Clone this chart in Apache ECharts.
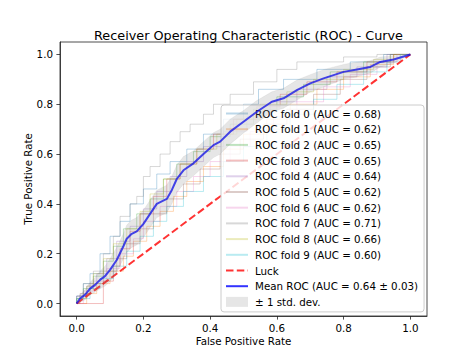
<!DOCTYPE html>
<html>
<head>
<meta charset="utf-8">
<script src="https://cdn.jsdelivr.net/npm/echarts@6/dist/echarts.min.js"></script>
<style>html,body{margin:0;padding:0;background:#fff;}#c{width:474px;height:355px;}</style>
</head>
<body>
<div id="c"></div>
<script>
// ---- data ----
const tickValues = [0, 0.2, 0.4, 0.6, 0.8, 1.0];
const foldNames = ['ROC fold 0 (AUC = 0.68)','ROC fold 1 (AUC = 0.62)','ROC fold 2 (AUC = 0.65)','ROC fold 3 (AUC = 0.65)','ROC fold 4 (AUC = 0.64)','ROC fold 5 (AUC = 0.62)','ROC fold 6 (AUC = 0.62)','ROC fold 7 (AUC = 0.71)','ROC fold 8 (AUC = 0.66)','ROC fold 9 (AUC = 0.60)'];
const fold0 = [[0,0],[0,0.03],[0.02,0.03],[0.02,0.08],[0.04,0.08],[0.04,0.12],[0.07,0.12],[0.07,0.2],[0.1,0.2],[0.1,0.27],[0.13,0.27],[0.13,0.33],[0.16,0.33],[0.16,0.4],[0.2,0.4],[0.2,0.46],[0.24,0.46],[0.24,0.52],[0.28,0.52],[0.28,0.57],[0.33,0.57],[0.33,0.62],[0.38,0.62],[0.38,0.68],[0.44,0.68],[0.44,0.74],[0.5,0.74],[0.5,0.8],[0.545,0.8],[0.545,0.86],[0.62,0.86],[0.62,0.9],[0.72,0.9],[0.72,0.94],[0.82,0.94],[0.82,0.97],[0.92,0.97],[0.92,1],[1,1]];
const fold1 = [[0,0],[0.03,0],[0.03,0.04],[0.06,0.04],[0.06,0.08],[0.1,0.08],[0.1,0.13],[0.14,0.13],[0.14,0.19],[0.17,0.19],[0.17,0.25],[0.21,0.25],[0.21,0.31],[0.25,0.31],[0.25,0.37],[0.29,0.37],[0.29,0.43],[0.33,0.43],[0.33,0.49],[0.38,0.49],[0.38,0.55],[0.44,0.55],[0.44,0.62],[0.5,0.62],[0.5,0.68],[0.57,0.68],[0.57,0.74],[0.64,0.74],[0.64,0.8],[0.72,0.8],[0.72,0.86],[0.8,0.86],[0.8,0.91],[0.88,0.91],[0.88,0.96],[0.95,0.96],[0.95,1],[1,1]];
const fold2 = [[0,0],[0,0.02],[0.02,0.02],[0.02,0.06],[0.05,0.06],[0.05,0.11],[0.08,0.11],[0.08,0.17],[0.11,0.17],[0.11,0.23],[0.14,0.23],[0.14,0.3],[0.18,0.3],[0.18,0.36],[0.22,0.36],[0.22,0.42],[0.26,0.42],[0.26,0.5],[0.3,0.5],[0.3,0.56],[0.35,0.56],[0.35,0.61],[0.4,0.61],[0.4,0.67],[0.46,0.67],[0.46,0.72],[0.53,0.72],[0.53,0.78],[0.6,0.78],[0.6,0.83],[0.68,0.83],[0.68,0.88],[0.76,0.88],[0.76,0.93],[0.86,0.93],[0.86,0.97],[0.94,0.97],[0.94,1],[1,1]];
const fold3 = [[0,0],[0.08,0],[0.08,0.09],[0.11,0.09],[0.11,0.15],[0.13,0.15],[0.13,0.22],[0.16,0.22],[0.16,0.29],[0.19,0.29],[0.19,0.36],[0.23,0.36],[0.23,0.43],[0.27,0.43],[0.27,0.5],[0.31,0.5],[0.31,0.56],[0.36,0.56],[0.36,0.62],[0.41,0.62],[0.41,0.68],[0.47,0.68],[0.47,0.74],[0.54,0.74],[0.54,0.79],[0.61,0.79],[0.61,0.84],[0.69,0.84],[0.69,0.89],[0.78,0.89],[0.78,0.93],[0.87,0.93],[0.87,0.97],[0.95,0.97],[0.95,1],[1,1]];
const fold4 = [[0,0],[0,0.03],[0.03,0.03],[0.03,0.07],[0.06,0.07],[0.06,0.12],[0.09,0.12],[0.09,0.18],[0.12,0.18],[0.12,0.25],[0.16,0.25],[0.16,0.31],[0.2,0.31],[0.2,0.38],[0.24,0.38],[0.24,0.45],[0.28,0.45],[0.28,0.51],[0.33,0.51],[0.33,0.57],[0.38,0.57],[0.38,0.63],[0.44,0.63],[0.44,0.69],[0.51,0.69],[0.51,0.75],[0.58,0.75],[0.58,0.81],[0.66,0.81],[0.66,0.86],[0.75,0.86],[0.75,0.91],[0.84,0.91],[0.84,0.95],[0.93,0.95],[0.93,1],[1,1]];
const fold5 = [[0,0],[0.01,0],[0.01,0.04],[0.04,0.04],[0.04,0.08],[0.08,0.08],[0.08,0.13],[0.12,0.13],[0.12,0.18],[0.15,0.18],[0.15,0.24],[0.19,0.24],[0.19,0.3],[0.23,0.3],[0.23,0.36],[0.27,0.36],[0.27,0.42],[0.32,0.42],[0.32,0.48],[0.37,0.48],[0.37,0.54],[0.43,0.54],[0.43,0.6],[0.49,0.6],[0.49,0.66],[0.56,0.66],[0.56,0.72],[0.63,0.72],[0.63,0.78],[0.71,0.78],[0.71,0.84],[0.79,0.84],[0.79,0.9],[0.87,0.9],[0.87,0.95],[0.94,0.95],[0.94,1],[1,1]];
const fold6 = [[0,0],[0.02,0],[0.02,0.05],[0.05,0.05],[0.05,0.09],[0.09,0.09],[0.09,0.14],[0.13,0.14],[0.13,0.2],[0.17,0.2],[0.17,0.26],[0.2,0.26],[0.2,0.33],[0.25,0.33],[0.25,0.39],[0.3,0.39],[0.3,0.45],[0.35,0.45],[0.35,0.51],[0.4,0.51],[0.4,0.57],[0.46,0.57],[0.46,0.63],[0.52,0.63],[0.52,0.69],[0.59,0.69],[0.59,0.75],[0.66,0.75],[0.66,0.81],[0.74,0.81],[0.74,0.87],[0.82,0.87],[0.82,0.92],[0.9,0.92],[0.9,0.97],[0.96,0.97],[0.96,1],[1,1]];
const fold7 = [[0,0],[0,0.03],[0.02,0.03],[0.02,0.08],[0.05,0.08],[0.05,0.13],[0.08,0.13],[0.08,0.2],[0.11,0.2],[0.11,0.27],[0.13,0.27],[0.13,0.35],[0.16,0.35],[0.16,0.4],[0.18,0.4],[0.18,0.43],[0.2,0.43],[0.2,0.51],[0.22,0.51],[0.22,0.55],[0.25,0.55],[0.25,0.6],[0.28,0.6],[0.28,0.65],[0.31,0.65],[0.31,0.69],[0.34,0.69],[0.34,0.72],[0.38,0.72],[0.38,0.76],[0.41,0.76],[0.41,0.8],[0.46,0.8],[0.46,0.84],[0.53,0.84],[0.53,0.89],[0.6,0.89],[0.6,0.94],[0.66,0.94],[0.66,0.97],[0.8,0.97],[0.8,0.99],[0.9,0.99],[0.9,1],[1,1]];
const fold8 = [[0,0],[0,0.02],[0.03,0.02],[0.03,0.07],[0.05,0.07],[0.05,0.12],[0.08,0.12],[0.08,0.18],[0.11,0.18],[0.11,0.24],[0.15,0.24],[0.15,0.3],[0.19,0.3],[0.19,0.37],[0.22,0.37],[0.22,0.44],[0.26,0.44],[0.26,0.5],[0.31,0.5],[0.31,0.56],[0.36,0.56],[0.36,0.62],[0.42,0.62],[0.42,0.68],[0.48,0.68],[0.48,0.74],[0.55,0.74],[0.55,0.8],[0.63,0.8],[0.63,0.85],[0.71,0.85],[0.71,0.9],[0.8,0.9],[0.8,0.94],[0.89,0.94],[0.89,0.98],[0.95,0.98],[0.95,1],[1,1]];
const fold9 = [[0,0],[0,0.02],[0.04,0.02],[0.04,0.06],[0.07,0.06],[0.07,0.1],[0.11,0.1],[0.11,0.15],[0.15,0.15],[0.15,0.21],[0.19,0.21],[0.19,0.27],[0.23,0.27],[0.23,0.33],[0.27,0.33],[0.27,0.39],[0.32,0.39],[0.32,0.45],[0.38,0.45],[0.38,0.51],[0.44,0.51],[0.44,0.57],[0.5,0.57],[0.5,0.63],[0.57,0.63],[0.57,0.7],[0.64,0.7],[0.64,0.76],[0.71,0.76],[0.71,0.82],[0.78,0.82],[0.78,0.88],[0.86,0.88],[0.86,0.93],[0.93,0.93],[0.93,0.97],[0.97,0.97],[0.97,1],[1,1]];
const luckLine = [[0,0],[1,1]];
const meanFpr = [0,0.01,0.025,0.04,0.055,0.07,0.085,0.1,0.12,0.14,0.15,0.165,0.18,0.2,0.22,0.24,0.27,0.285,0.3,0.32,0.35,0.38,0.41,0.43,0.46,0.5,0.54,0.585,0.62,0.66,0.7,0.74,0.8,0.84,0.88,0.91,0.95,1.0];
const meanTpr = [0,0.02,0.035,0.06,0.075,0.095,0.11,0.135,0.175,0.23,0.26,0.28,0.29,0.32,0.36,0.4,0.42,0.455,0.5,0.535,0.563,0.6,0.636,0.65,0.69,0.73,0.77,0.81,0.824,0.857,0.884,0.904,0.93,0.94,0.95,0.97,0.98,1.0];
const lowerTpr = [0,0.005,0.015,0.035,0.045,0.06,0.07,0.09,0.125,0.18,0.205,0.225,0.235,0.265,0.305,0.345,0.365,0.4,0.445,0.48,0.513,0.55,0.586,0.6,0.64,0.685,0.725,0.77,0.784,0.817,0.849,0.869,0.9,0.91,0.925,0.95,0.965,1.0];
const upperTpr = [0,0.035,0.055,0.085,0.105,0.13,0.15,0.18,0.225,0.28,0.315,0.335,0.345,0.375,0.415,0.455,0.475,0.51,0.555,0.59,0.613,0.65,0.686,0.7,0.74,0.775,0.815,0.85,0.864,0.897,0.919,0.939,0.96,0.97,0.975,0.99,0.995,1.0];

// ---- build chart ----
const folds = [fold0, fold1, fold2, fold3, fold4, fold5, fold6, fold7, fold8, fold9];
const foldColors = ['rgba(31,119,180,0.3)','rgba(255,127,14,0.3)','rgba(44,160,44,0.3)','rgba(214,39,40,0.3)','rgba(148,103,189,0.3)','rgba(140,86,75,0.3)','rgba(227,119,194,0.3)','rgba(127,127,127,0.3)','rgba(188,189,34,0.3)','rgba(23,190,207,0.3)'];
const FONT = '"DejaVu Sans", sans-serif';
const BAND = 'rgba(128,128,128,0.2)';
const series = [];
folds.forEach((d, i) => {
  series.push({
    name: foldNames[i], type: 'line', data: d, symbol: 'none', showSymbol: false,
    lineStyle: { color: foldColors[i], width: 1 }, itemStyle: { color: foldColors[i] },
    z: 2, silent: true
  });
});
series.push({
  name: 'Luck', type: 'line', data: luckLine, symbol: 'none',
  lineStyle: { color: 'rgba(255,0,0,0.8)', width: 2, type: [7.5, 3.3] }, itemStyle: { color: 'rgba(255,0,0,0.8)' }, z: 3, silent: true
});
series.push({
  name: 'Mean ROC (AUC = 0.64 ± 0.03)', type: 'line', data: meanFpr.map((x, i) => [x, meanTpr[i]]), symbol: 'none',
  lineStyle: { color: 'rgba(0,0,255,0.8)', width: 2 }, itemStyle: { color: 'rgba(0,0,255,0.8)' }, z: 4, silent: true
});
// std band as one polygon, vertices placed through the axes' scales
const bandRows = meanFpr.map((x, i) => [x, lowerTpr[i], upperTpr[i]]);
series.push({
  name: '± 1 std. dev.', type: 'custom', data: bandRows, z: 5, silent: true,
  itemStyle: { color: BAND },
  encode: { x: 0, y: [1, 2] },
  renderItem: function (params, api) {
    if (params.dataIndex !== 0) return null;
    const pts = [];
    bandRows.forEach(r => pts.push(api.coord([r[0], r[2]])));
    for (let i = bandRows.length - 1; i >= 0; i--) pts.push(api.coord([bandRows[i][0], bandRows[i][1]]));
    return { type: 'polygon', shape: { points: pts }, style: { fill: BAND, stroke: BAND, lineWidth: 0.5 } };
  }
});

const legendData = foldNames.map(n => ({ name: n }))
  .concat([{ name: 'Luck' }, { name: 'Mean ROC (AUC = 0.64 ± 0.03)' },
    { name: '± 1 std. dev.', icon: 'rect', itemStyle: { color: BAND, borderColor: BAND, opacity: 1 } }]);

const axisCommon = {
  type: 'value', min: -0.05, max: 1.05,
  axisLine: { show: true, onZero: false, lineStyle: { color: '#222', width: 0.8 } },
  splitLine: { show: false },
  axisTick: { show: true, inside: false, length: 3.6, customValues: tickValues, lineStyle: { color: '#222', width: 0.8 } },
  axisLabel: { customValues: tickValues, formatter: v => v.toFixed(1), color: '#000', fontSize: 10.3, fontFamily: FONT, margin: 7 },
  nameLocation: 'middle',
  nameMoveOverlap: false,
  nameTextStyle: { color: '#000', fontSize: 10.3, fontFamily: FONT }
};

const chart = echarts.init(document.getElementById('c'), null, { renderer: 'svg' });
chart.setOption({
  animation: false,
  backgroundColor: '#fff',
  title: {
    text: 'Receiver Operating Characteristic (ROC) - Curve',
    left: 243.5, top: 24, textAlign: 'center',
    textStyle: { fontSize: 12.8, fontWeight: 'normal', color: '#000', fontFamily: FONT }
  },
  grid: { left: 60, top: 42, width: 367, height: 274, show: true, borderColor: '#222', borderWidth: 0.8, containLabel: false },
  xAxis: Object.assign({}, axisCommon, { name: 'False Positive Rate', nameGap: 20 }),
  yAxis: Object.assign({}, axisCommon, { name: 'True Positive Rate', nameGap: 27 }),
  legend: {
    orient: 'vertical', left: 221, top: 105,
    data: legendData,
    itemWidth: 22, itemHeight: 10, itemGap: 5.7,
    padding: [3.5, 6, 5, 4],
    itemStyle: { opacity: 0 },
    backgroundColor: 'rgba(255,255,255,0.8)', borderColor: '#ccc', borderWidth: 1, borderRadius: 3,
    textStyle: { color: '#000', fontSize: 10.3, fontFamily: FONT, lineHeight: 10, padding: [0, 0, 0, 2] },
    selectedMode: false
  },
  series: series
});
</script>
</body>
</html>
